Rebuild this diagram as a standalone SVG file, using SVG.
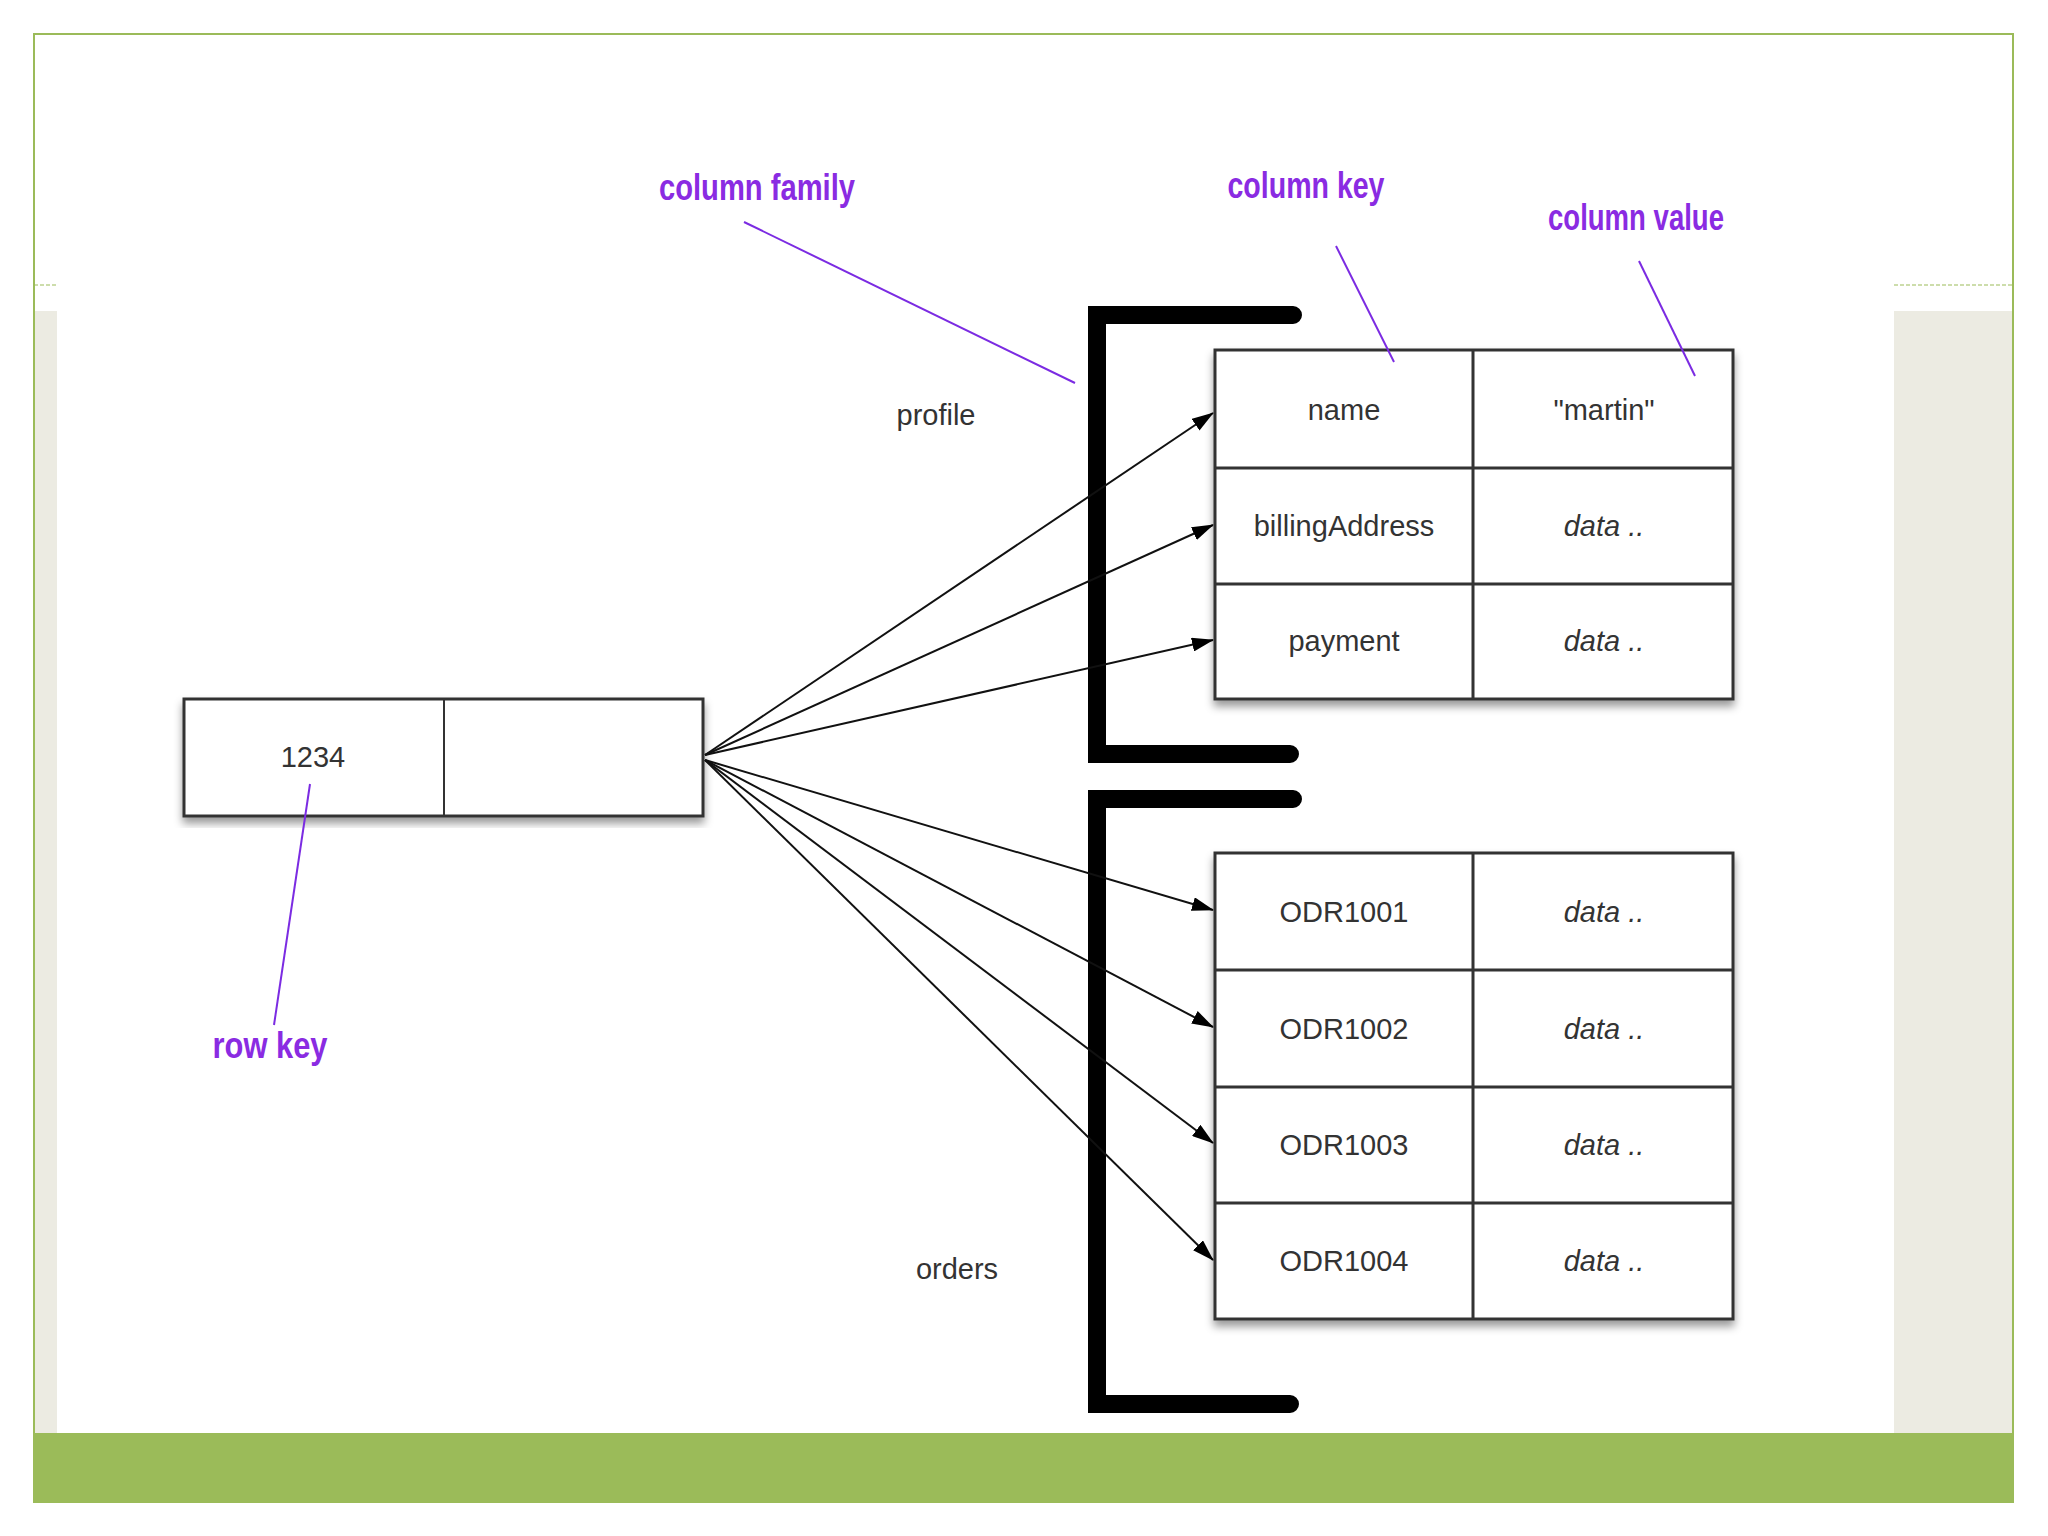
<svg xmlns="http://www.w3.org/2000/svg" width="2048" height="1536" viewBox="0 0 2048 1536">
<style>
.t{font-family:"Liberation Sans",Arial,sans-serif;font-size:29px;fill:#333;text-anchor:middle}
.i{font-style:italic}
.p{font-family:"Liberation Sans Narrow","Liberation Sans",sans-serif;font-weight:bold;font-size:36px;fill:#8a2be2;text-anchor:middle}
.cell{fill:#fff;stroke:#333;stroke-width:3}
.pl{stroke:#7b2be2;stroke-width:2;fill:none}
.ar{stroke:#111;stroke-width:2;fill:none;marker-end:url(#a)}
.br{stroke:#000;stroke-width:18;fill:none;stroke-linecap:round}
</style>
<defs>
<marker id="a" markerWidth="22" markerHeight="14" refX="21" refY="7" orient="auto" markerUnits="userSpaceOnUse" viewBox="0 0 22 14"><path d="M0,0L22,7L0,14z" fill="#000"/></marker>
<filter id="s"><feDropShadow dx="0" dy="6" stdDeviation="4" flood-opacity="0.4"/></filter>
</defs>
<rect width="2048" height="1536" fill="#fff"/>
<rect x="34" y="311" width="1979" height="1126" fill="#ecebe2"/>
<rect x="57" y="34" width="1837" height="1403" fill="#fff"/>
<rect x="34" y="1433" width="1979" height="69" fill="#9bbb59"/>
<rect x="34" y="34" width="1979" height="1468" fill="none" stroke="#9bbb59" stroke-width="2"/>
<line x1="34" y1="285" x2="57" y2="285" stroke="#9bbb59" stroke-dasharray="4,2"/>
<line x1="1894" y1="285" x2="2013" y2="285" stroke="#9bbb59" stroke-dasharray="4,2"/>
<g id="brackets">
<path class="br" d="M1293,315H1097V754H1290"/>
<path class="br" d="M1293,799H1097V1404H1290"/>
</g>
<g id="row">
<rect class="cell" x="184" y="699" width="519" height="117" filter="url(#s)"/>
<line x1="444" y1="699" x2="444" y2="816" stroke="#333" stroke-width="2"/>
<text class="t" x="313" y="767">1234</text>
</g>
<g id="profile-table">
<rect class="cell" x="1215" y="350" width="518" height="349" filter="url(#s)"/>
<path d="M1473,350V699M1215,468H1733M1215,584H1733" stroke="#333" stroke-width="3"/>
<text class="t" x="1344" y="420">name</text><text class="t" x="1604" y="420">"martin"</text>
<text class="t" x="1344" y="536">billingAddress</text><text class="t i" x="1604" y="536">data ..</text>
<text class="t" x="1344" y="651">payment</text><text class="t i" x="1604" y="651">data ..</text>
</g>
<g id="orders-table">
<rect class="cell" x="1215" y="853" width="518" height="466" filter="url(#s)"/>
<path d="M1473,853V1319M1215,970H1733M1215,1087H1733M1215,1203H1733" stroke="#333" stroke-width="3"/>
<text class="t" x="1344" y="922">ODR1001</text><text class="t i" x="1604" y="922">data ..</text>
<text class="t" x="1344" y="1039">ODR1002</text><text class="t i" x="1604" y="1039">data ..</text>
<text class="t" x="1344" y="1155">ODR1003</text><text class="t i" x="1604" y="1155">data ..</text>
<text class="t" x="1344" y="1271">ODR1004</text><text class="t i" x="1604" y="1271">data ..</text>
</g>
<g id="labels">
<text class="t" x="936" y="425">profile</text>
<text class="t" x="957" y="1279">orders</text>
<text class="p" x="757" y="200" textLength="196" lengthAdjust="spacingAndGlyphs">column family</text>
<text class="p" x="1306" y="198" textLength="157" lengthAdjust="spacingAndGlyphs">column key</text>
<text class="p" x="1636" y="230" textLength="176" lengthAdjust="spacingAndGlyphs">column value</text>
<text class="p" x="270" y="1058" textLength="115" lengthAdjust="spacingAndGlyphs">row key</text>
</g>
<g id="connectors">
<line class="pl" x1="744" y1="222" x2="1075" y2="383"/>
<line class="pl" x1="1336" y1="246" x2="1394" y2="362"/>
<line class="pl" x1="1639" y1="261" x2="1695" y2="376"/>
<line class="pl" x1="310" y1="784" x2="274" y2="1025"/>
<line class="ar" x1="705" y1="755" x2="1213" y2="413"/>
<line class="ar" x1="705" y1="755" x2="1213" y2="525"/>
<line class="ar" x1="705" y1="755" x2="1213" y2="640"/>
<line class="ar" x1="705" y1="760" x2="1213" y2="910"/>
<line class="ar" x1="705" y1="760" x2="1213" y2="1027"/>
<line class="ar" x1="705" y1="760" x2="1213" y2="1143"/>
<line class="ar" x1="705" y1="760" x2="1213" y2="1260"/>
</g>
</svg>
